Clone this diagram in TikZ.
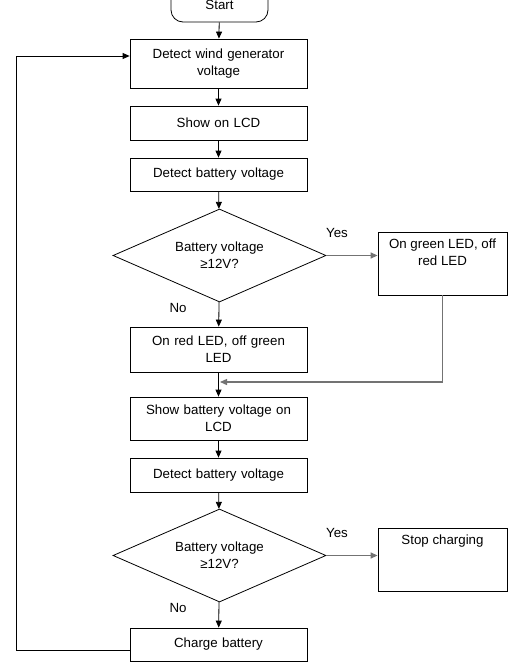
\documentclass[tikz,border=0pt]{standalone}
\usepackage{fontspec}
\setmainfont{Liberation Sans}
\usetikzlibrary{arrows.meta,shapes.geometric}
\tikzset{
  block/.style={draw, line width=0.8pt, text width=170pt, inner xsep=3.5pt, inner ysep=2pt, align=center},
  decision/.style={draw, diamond, aspect=2.29, line width=0.8pt, minimum width=213pt, minimum height=93pt, inner sep=0pt, align=center},
  terminal/.style={draw, rounded corners=12pt, line width=0.8pt, minimum width=97pt, minimum height=34pt},
  line/.style={line width=0.8pt, -{Triangle[length=7pt,width=6pt]}},
  grayline/.style={line, color=black!55, line width=1.3pt}
}
\begin{document}
\begin{tikzpicture}[x=1pt, y=-1pt, font=\fontsize{13.3}{17}\selectfont]
			%%%%% START %%%%%
			\useasboundingbox (0,0) rectangle (519,669);
			
			\node[terminal] (start) at (219.5, 5) {Start};
			\node[block, minimum height=49pt] (wind) at (218.5, 63.5) {Detect wind generator\\voltage};
			\node[block, minimum height=34pt] (lcd) at (218.5, 123) {Show on LCD};
			\node[block, minimum height=33pt] (batt) at (218.5, 174.5) {Detect battery voltage};
			\node[decision] (dec1) at (219.5, 255.5) {Battery voltage\\≥12V?};
			\node[block, minimum height=45pt] (red) at (218.5, 349.5) {On red LED, off green\\LED};
			\node[block, minimum height=43pt] (show) at (218.5, 418.5) {Show battery voltage on\\LCD};
			\node[block, minimum height=34pt] (batt2) at (218.5, 475) {Detect battery voltage};
			\node[decision] (dec2) at (219.5, 555.5) {Battery voltage\\≥12V?};
			\node[block, minimum height=33pt] (charge) at (218.5, 644.5) {Charge battery};
			
			% right column
			\node[draw, line width=0.8pt, minimum width=129pt, minimum height=63pt] (green) at (442.5, 263.5) {};
			\node[anchor=north, align=center] (greentext) at (442.5, 235) {On green LED, off\\red LED};
			\node[draw, line width=0.8pt, minimum width=129pt, minimum height=63pt] (stop) at (442.5, 559.5) {};
			\node[anchor=north, align=center] (stoptext) at (442.5, 531) {Stop charging};
			
			\node (yes1) at (337, 233) {Yes};
			\node (no1) at (178, 308) {No};
			\node (yes2) at (337, 533) {Yes};
			\node (no2) at (178, 608) {No};
			
			\coordinate (join) at (220, 382);
			\coordinate (loop) at (16, 650);
			
			\draw[line] (start) -- (wind);
			\draw[line] (wind) -- (lcd);
			\draw[line] (lcd) -- (batt);
			\draw[line] (batt) -- (dec1);
			\draw[line] (dec1) -- (red);
			\draw[line] (red) -- (show);
			\draw[line] (show) -- (batt2);
			\draw[line] (batt2) -- (dec2);
			\draw[line] (dec2) -- (charge);
			
			\draw[grayline] (dec1.east) -- (dec1.east -| green.west);
			\draw[grayline] (green.south) |- (join);
			\draw[grayline] (dec2.east) -- (dec2.east -| stop.west);
			
			\draw[line] ([yshift=-5.5]charge.west) -| (loop) |- ([yshift=7.5]wind.west);
			
			%%%%% END %%%%%
\end{tikzpicture}
\end{document}
